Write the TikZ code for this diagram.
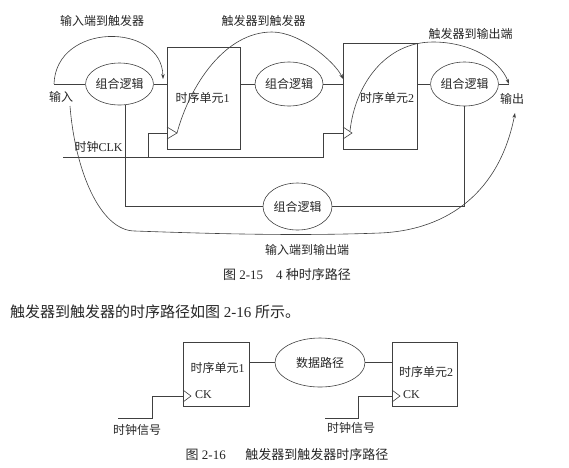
\documentclass[tikz,border=0pt]{standalone}
\usepackage{fontspec}
\setmainfont{Liberation Serif}
\newfontfamily\cjk{Noto Sans CJK SC}
\usetikzlibrary{shapes.geometric,arrows.meta}
\newcommand{\zh}[1]{{\cjk #1}}
\begin{document}
\begin{tikzpicture}[x=1pt,y=-1pt,
  line/.style={draw=black!75, line width=0.6pt},
  arr/.style={line, -{Stealth[length=5pt,width=3.5pt]}},
  lbl/.style={inner sep=0, text=black!85, font=\fontsize{12}{14}\selectfont},
  captext/.style={inner sep=0, text=black!85, font=\fontsize{13}{15}\selectfont},
  logic/.style={ellipse, line, inner sep=0, minimum width=66pt, minimum height=42pt, lbl},
  reg/.style={rectangle, line, inner sep=0},
]
\useasboundingbox (0,0) rectangle (569,467);

% ---------------- upper figure ----------------
\node[reg, minimum width=73pt, minimum height=102pt] (b1) at (203.5,98) {};
\node[reg, minimum width=74pt, minimum height=106pt] (b2) at (380,96) {};
\node[lbl] (t1) at (202.5,98) {\zh{时序单元}1};
\node[lbl] (t2) at (387,98) {\zh{时序单元}2};
\node[logic] (e1) at (119.5,84) {\zh{组合逻辑}};
\node[logic, minimum width=68pt, minimum height=44pt] (e2) at (289,84) {\zh{组合逻辑}};
\node[logic, minimum height=44pt] (e3) at (464.5,84) {\zh{组合逻辑}};
\node[logic, minimum width=69pt, minimum height=47pt] (e4) at (297.5,206.5) {\zh{组合逻辑}};

\coordinate (in) at (54,84);
\coordinate (out) at (509,84);
\coordinate (a1) at (163,79);
\coordinate (a2) at (343,79);
\coordinate (tip1) at (177,133);
\coordinate (tip2) at (350,131);
\coordinate (in4) at (70,106);
\coordinate (a4) at (515,113);
\coordinate (clkL) at (63,157);
\coordinate (clkR) at (323,157);
\coordinate (r1) at (148,157);
\coordinate (ck1) at (167,133);
\coordinate (ck2) at (343,133);

% data path
\draw[line] (in) -- (e1.west);
\draw[line] (e1.east) -- (e1.east -| b1.west);
\draw[line] (b1.east |- e2.west) -- (e2.west);
\draw[line] (e2.east) -- (e2.east -| b2.west);
\draw[line] (b2.east |- e3.west) -- (e3.west);
\draw[line] (e3.east) -- (out);

% clock
\draw[line] (clkL) -- (clkR) |- (ck2);
\draw[line] (r1) |- (ck1);
\draw[line] (167,127) -- (177,133) -- (167,139);
\draw[line] (343,127) -- (352,133) -- (343,139);

% bottom combinational path
\draw[line] (e1.-75) |- (e4.west);
\draw[line] (e4.east) -| (e3.south);

% timing path curves
\draw[arr] (in) .. controls (56,22) and (162,22) .. (a1);
\draw[arr] (tip1) .. controls (190,85) and (225,32) .. (272,32)
  .. controls (300,32) and (335,62) .. (a2);
\draw[arr] (tip2) .. controls (355,85) and (385,42) .. (433,42)
  .. controls (470,42) and (500,60) .. (out);
\draw[arr] (in4) .. controls (75,170) and (100,231) .. (135,231)
  .. controls (220,234) and (300,236) .. (380,233)
  .. controls (450,230) and (500,190) .. (a4);

% labels
\node[lbl] (l1) at (102,21) {\zh{输入端到触发器}};
\node[lbl] (l2) at (263.5,21) {\zh{触发器到触发器}};
\node[lbl] (l3) at (470.5,34) {\zh{触发器到输出端}};
\node[lbl] (l4) at (307,250) {\zh{输入端到输出端}};
\node[lbl] (lin) at (61,97) {\zh{输入}};
\node[lbl] (lout) at (512,99) {\zh{输出}};
\node[lbl] (lclk) at (98.5,147) {\zh{时钟}CLK};
\node[captext] (cap1) at (287,275) {\zh{图} 2-15\hspace{1em}4 \zh{种时序路径}};

% ---------------- paragraph ----------------
\node[inner sep=0, anchor=west, text=black!85, font=\fontsize{15}{18}\selectfont] (para) at (10,312)
  {\zh{触发器到触发器的时序路径如图} 2-16 \zh{所示。}};

% ---------------- lower figure ----------------
\node[reg, minimum width=66pt, minimum height=64pt] (bA) at (216,374) {};
\node[reg, minimum width=65pt, minimum height=64pt] (bB) at (424.5,374) {};
\node[lbl] (tA) at (217.5,368) {\zh{时序单元}1};
\node[lbl] (tB) at (426,372) {\zh{时序单元}2};
\node[lbl, anchor=west] (ckAl) at (195,395) {CK};
\node[lbl, anchor=west] (ckBl) at (403,395) {CK};
\node[logic, minimum width=90pt, minimum height=49pt] (dp) at (320,362.5) {\zh{数据路径}};

\draw[line] (bA.east |- dp.west) -- (dp.west);
\draw[line] (dp.east) -- (dp.east -| bB.west);

\draw[line] (183,390) -- (191,396) -- (183,402);
\draw[line] (392,390) -- (400,396) -- (392,402);

\coordinate (cA) at (118,418);
\coordinate (kA) at (152,418);
\coordinate (ckA) at (183,396);
\coordinate (cB) at (325,418);
\coordinate (kB) at (358,418);
\coordinate (ckB) at (392,396);
\draw[line] (cA) -- (kA) |- (ckA);
\draw[line] (cB) -- (kB) |- (ckB);

\node[lbl] (sA) at (137,430) {\zh{时钟信号}};
\node[lbl] (sB) at (351,428) {\zh{时钟信号}};
\node[captext] (cap2) at (287,455) {\zh{图} 2-16\hspace{1.5em}\zh{触发器到触发器时序路径}};
\end{tikzpicture}
\end{document}
